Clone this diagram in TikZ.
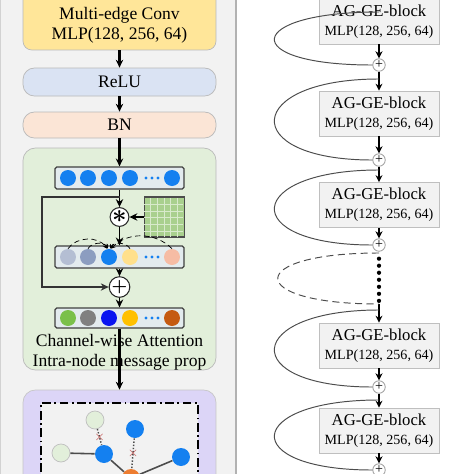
\documentclass[tikz,border=0pt]{standalone}
\usepackage{amsmath}
\usepackage{fontspec}
\setmainfont{Liberation Serif}
\usepackage{tikz}
\usetikzlibrary{arrows.meta,calc,positioning}

\definecolor{panelgray}{HTML}{F2F2F2}
\definecolor{convyellow}{HTML}{FFE699}
\definecolor{relublue}{HTML}{DAE3F3}
\definecolor{bnpeach}{HTML}{FBE5D6}
\definecolor{attgreen}{HTML}{E2EFDA}
\definecolor{gnnpurple}{HTML}{DCD5F7}
\definecolor{featbg}{HTML}{E3EBEE}
\definecolor{featblue}{HTML}{1480F0}
\definecolor{kernelgreen}{HTML}{A9D08E}
\definecolor{crossred}{HTML}{C0504D}
\definecolor{nodeorange}{HTML}{ED7D31}

\tikzset{
  stagebox/.style={draw=gray!55, line width=0.4pt, rounded corners=6.5pt, minimum width=3.86cm, inner sep=0pt, font=\fontsize{10}{11.3}\selectfont},
  featrow/.style={draw=black!75, line width=0.7pt, fill=featbg, rounded corners=1pt, minimum width=2.58cm, minimum height=0.44cm, inner sep=0pt},
  feat/.style={circle, minimum size=0.32cm, inner sep=0pt},
  opcircle/.style={circle, draw=black!85, line width=0.6pt, fill=white, minimum size=0.34cm, inner sep=0pt},
  agblock/.style={draw=gray!50, fill=panelgray, minimum width=2.4cm, minimum height=0.9cm, inner sep=0pt, align=center, font=\fontsize{8}{10.8}\selectfont},
  addnode/.style={circle, draw=gray!75, fill=white, line width=0.5pt, minimum size=0.25cm, inner sep=0pt, font=\fontsize{8}{8}\selectfont},
  gnode/.style={circle, minimum size=0.36cm, inner sep=0pt},
  flow/.style={-{Stealth[length=4.5pt,width=4.2pt]}, line width=1.3pt},
  rflow/.style={-{Stealth[length=4pt,width=4pt]}, line width=0.9pt},
  skip/.style={draw=black!70, line width=0.55pt},
  attn/.style={-{Stealth[length=2.5pt,width=2.5pt]}, densely dashed, line width=0.4pt},
}

\begin{document}
\begin{tikzpicture}[x=0.02cm, y=0.02cm]
\clip (0,0) rectangle (474,-474);
\fill[white] (0,0) rectangle (474,-474);
\fill[panelgray] (0,0) rectangle (236,-474);
\draw[gray!35, line width=0.6pt] (0.5,0) -- (0.5,-474);
\draw[gray!60, line width=0.9pt] (236,0) -- (236,-474);

% left column: edge conv and channel-wise attention
\node[stagebox, fill=convyellow, rounded corners=5pt, minimum height=1.3cm] (conv) at (119.5,-17.5) {};
\node[align=center, font=\fontsize{10}{11.3}\selectfont] (convtext) at (119.5,-25) {Multi-edge Conv\\MLP(128, 256, 64)};
\node[stagebox, fill=relublue, minimum height=0.56cm] (relu) at (119.5,-82) {ReLU};
\node[stagebox, fill=bnpeach, minimum height=0.52cm] (bn) at (119.5,-125) {BN};
\node[stagebox, fill=attgreen, rounded corners=7pt, minimum height=4.44cm] (attbox) at (119.5,-259) {};

\node[featrow] (row1) at (119.5,-178) {};
\foreach \n/\x in {1/68,2/88,3/109,4/130,6/172}
  \node[feat, fill=featblue] (f1\n) at (\x,-178) {};
\foreach \x in {146,152,158}
  \fill[featblue] (\x,-178) circle (1.6);

\node[opcircle, font=\Large] (mult) at (119.5,-217) {$\boldsymbol{\ast}$};
\node[draw=black!70, fill=kernelgreen, minimum size=0.8cm, inner sep=0pt, line width=0.6pt] (kernel) at (164.5,-217) {};
\begin{scope}[shift={(kernel.south west)}]
\draw[white!55!kernelgreen, line width=0.4pt, step=6.667] (0.5,0.5) grid (39.5,39.5);
\end{scope}

\node[featrow] (row2) at (119.5,-257) {};
\foreach \n/\x/\col in {1/68/B4BED3,2/88/8C9DC0,3/109/1480F0,4/130/FFE08C,6/172/F6BCA4}{
  \definecolor{tmpcol}{HTML}{\col}
  \node[feat, fill=tmpcol] (f2\n) at (\x,-257) {};
}
\foreach \x in {146,152,158}
  \fill[featblue] (\x,-257) circle (1.6);

\node[opcircle, minimum size=0.32cm] (add) at (119.5,-287) {$\boldsymbol{+}$};

\node[featrow, minimum height=0.4cm] (row3) at (119.5,-318) {};
\foreach \n/\x/\col in {1/68/7AC04A,2/88/808080,3/109/0A14F0,4/130/FFC000,6/172/C55A11}{
  \definecolor{tmpcol}{HTML}{\col}
  \node[feat, fill=tmpcol] (f3\n) at (\x,-318) {};
}
\foreach \x in {146,152,158}
  \fill[featblue] (\x,-318) circle (1.6);

\node[align=center, font=\fontsize{10}{11.3}\selectfont] (attlabel) at (119.5,-352) {Channel-wise Attention\\Intra-node message prop};

\coordinate (split) at (119.5,-197);
\draw[flow] (conv) -- (relu);
\draw[flow] (relu) -- (bn);
\draw[flow] (bn) -- (row1);
\draw[flow, line width=0.9pt] (row1) -- (mult);
\draw[flow, line width=0.8pt] (kernel) -- (mult);
\draw[flow, line width=0.9pt] (mult) -- (row2);
\draw[flow, line width=0.9pt] (row2) -- (add);
\draw[flow, line width=0.9pt] (add) -- (row3);
\draw[flow, line width=0.6pt, draw=black!80] (split) -- ++(-77.5,0) |- (add);
\draw[attn] (f21.north) to[bend left=55] ($(f23.north)+(-2,0)$);
\draw[attn] (f22.north) to[bend left=60] ($(f23.north)+(-1,0)$);
\draw[attn] (f24.north) to[bend right=60] ($(f23.north)+(1,0)$);
\draw[attn] (f26.north) to[bend right=45] ($(f23.north)+(2,0)$);

% left column: inter-node graph
\node[stagebox, fill=gnnpurple, draw=gray!45, rounded corners=7pt, minimum height=2.4cm] (gnn) at (119.5,-450) {};
\draw[flow] (row3) -- (gnn);
\node[draw=black, line width=1.3pt, dash pattern=on 5pt off 2pt on 1pt off 2pt, fill=panelgray, minimum width=3.14cm, minimum height=2cm] (nbhd) at (119.5,-453) {};
\node[gnode, fill=attgreen, draw=gray!50] (n1) at (95,-420) {};
\node[gnode, fill=attgreen, draw=gray!50] (n2) at (61,-453) {};
\node[gnode, fill=featblue] (n3) at (104,-454) {};
\node[gnode, fill=featblue] (n4) at (135,-429) {};
\node[gnode, fill=featblue] (n5) at (181,-457) {};
\node[gnode, fill=nodeorange] (n6) at (131,-478) {};
\draw[black!70, line width=0.9pt] (n2) -- (n3);
\draw[black!70, line width=0.9pt] (n3) -- (n6);
\draw[black!70, line width=0.9pt] (n5) -- (n6);
\draw[black!70, line width=0.8pt, densely dotted] (n1) -- node[text=crossred, font=\scriptsize] {$\times$} (n3);
\draw[black!70, line width=0.8pt, densely dotted] (n4) -- node[text=crossred, font=\scriptsize] {$\times$} (n6);

% right column: stacked AG-GE blocks
\node[agblock] (ag1) at (379,-21.5) {{\fontsize{9.5}{10.8}\selectfont AG-GE-block}\\MLP(128, 256, 64)};
\node[addnode] (add1) at (379,-65) {+};
\node[agblock] (ag2) at (379,-113.5) {{\fontsize{9.5}{10.8}\selectfont AG-GE-block}\\MLP(128, 256, 64)};
\node[addnode] (add2) at (379,-160) {+};
\node[agblock] (ag3) at (379,-205) {{\fontsize{9.5}{10.8}\selectfont AG-GE-block}\\MLP(128, 256, 64)};
\node[addnode] (add3) at (379,-245) {+};
\node[agblock] (ag4) at (379,-345.5) {{\fontsize{9.5}{10.8}\selectfont AG-GE-block}\\MLP(128, 256, 64)};
\node[addnode] (add4) at (379,-387) {+};
\node[agblock] (ag5) at (379,-430.5) {{\fontsize{9.5}{10.8}\selectfont AG-GE-block}\\MLP(128, 256, 64)};
\node[addnode] (add5) at (379,-470) {+};

\coordinate (s0) at (379,-12);
\coordinate (s1) at (379,-79);
\coordinate (s2) at (379,-170);
\coordinate (d1) at (379,-253);
\coordinate (d2) at (379,-304);
\coordinate (s4) at (379,-310);
\coordinate (s5) at (379,-400);

\draw[rflow] (ag1) -- (add1);
\draw[rflow] (add1) -- (ag2);
\draw[rflow] (ag2) -- (add2);
\draw[rflow] (add2) -- (ag3);
\draw[rflow] (ag3) -- (add3);
\draw[line width=2.4pt, line cap=round, dash pattern=on 0pt off 4pt, shorten <=0.14cm] (add3) -- (d2);
\draw[rflow] (d2) -- (ag4);
\draw[rflow] (ag4) -- (add4);
\draw[rflow] (add4) -- (ag5);
\draw[rflow] (ag5) -- (add5);

\draw[skip] (s0) .. controls +(-135,0) and +(-135,0) .. (add1.west);
\draw[skip] (s1) .. controls +(-135,0) and +(-135,0) .. (add2.west);
\draw[skip] (s2) .. controls +(-135,0) and +(-135,0) .. (add3.west);
\draw[skip, dash pattern=on 4pt off 2.5pt] (d1) .. controls +(-135,0) and +(-135,0) .. (d2);
\draw[skip] (s4) .. controls +(-135,0) and +(-135,0) .. (add4.west);
\draw[skip] (s5) .. controls +(-135,0) and +(-135,0) .. (add5.west);
\end{tikzpicture}
\end{document}
